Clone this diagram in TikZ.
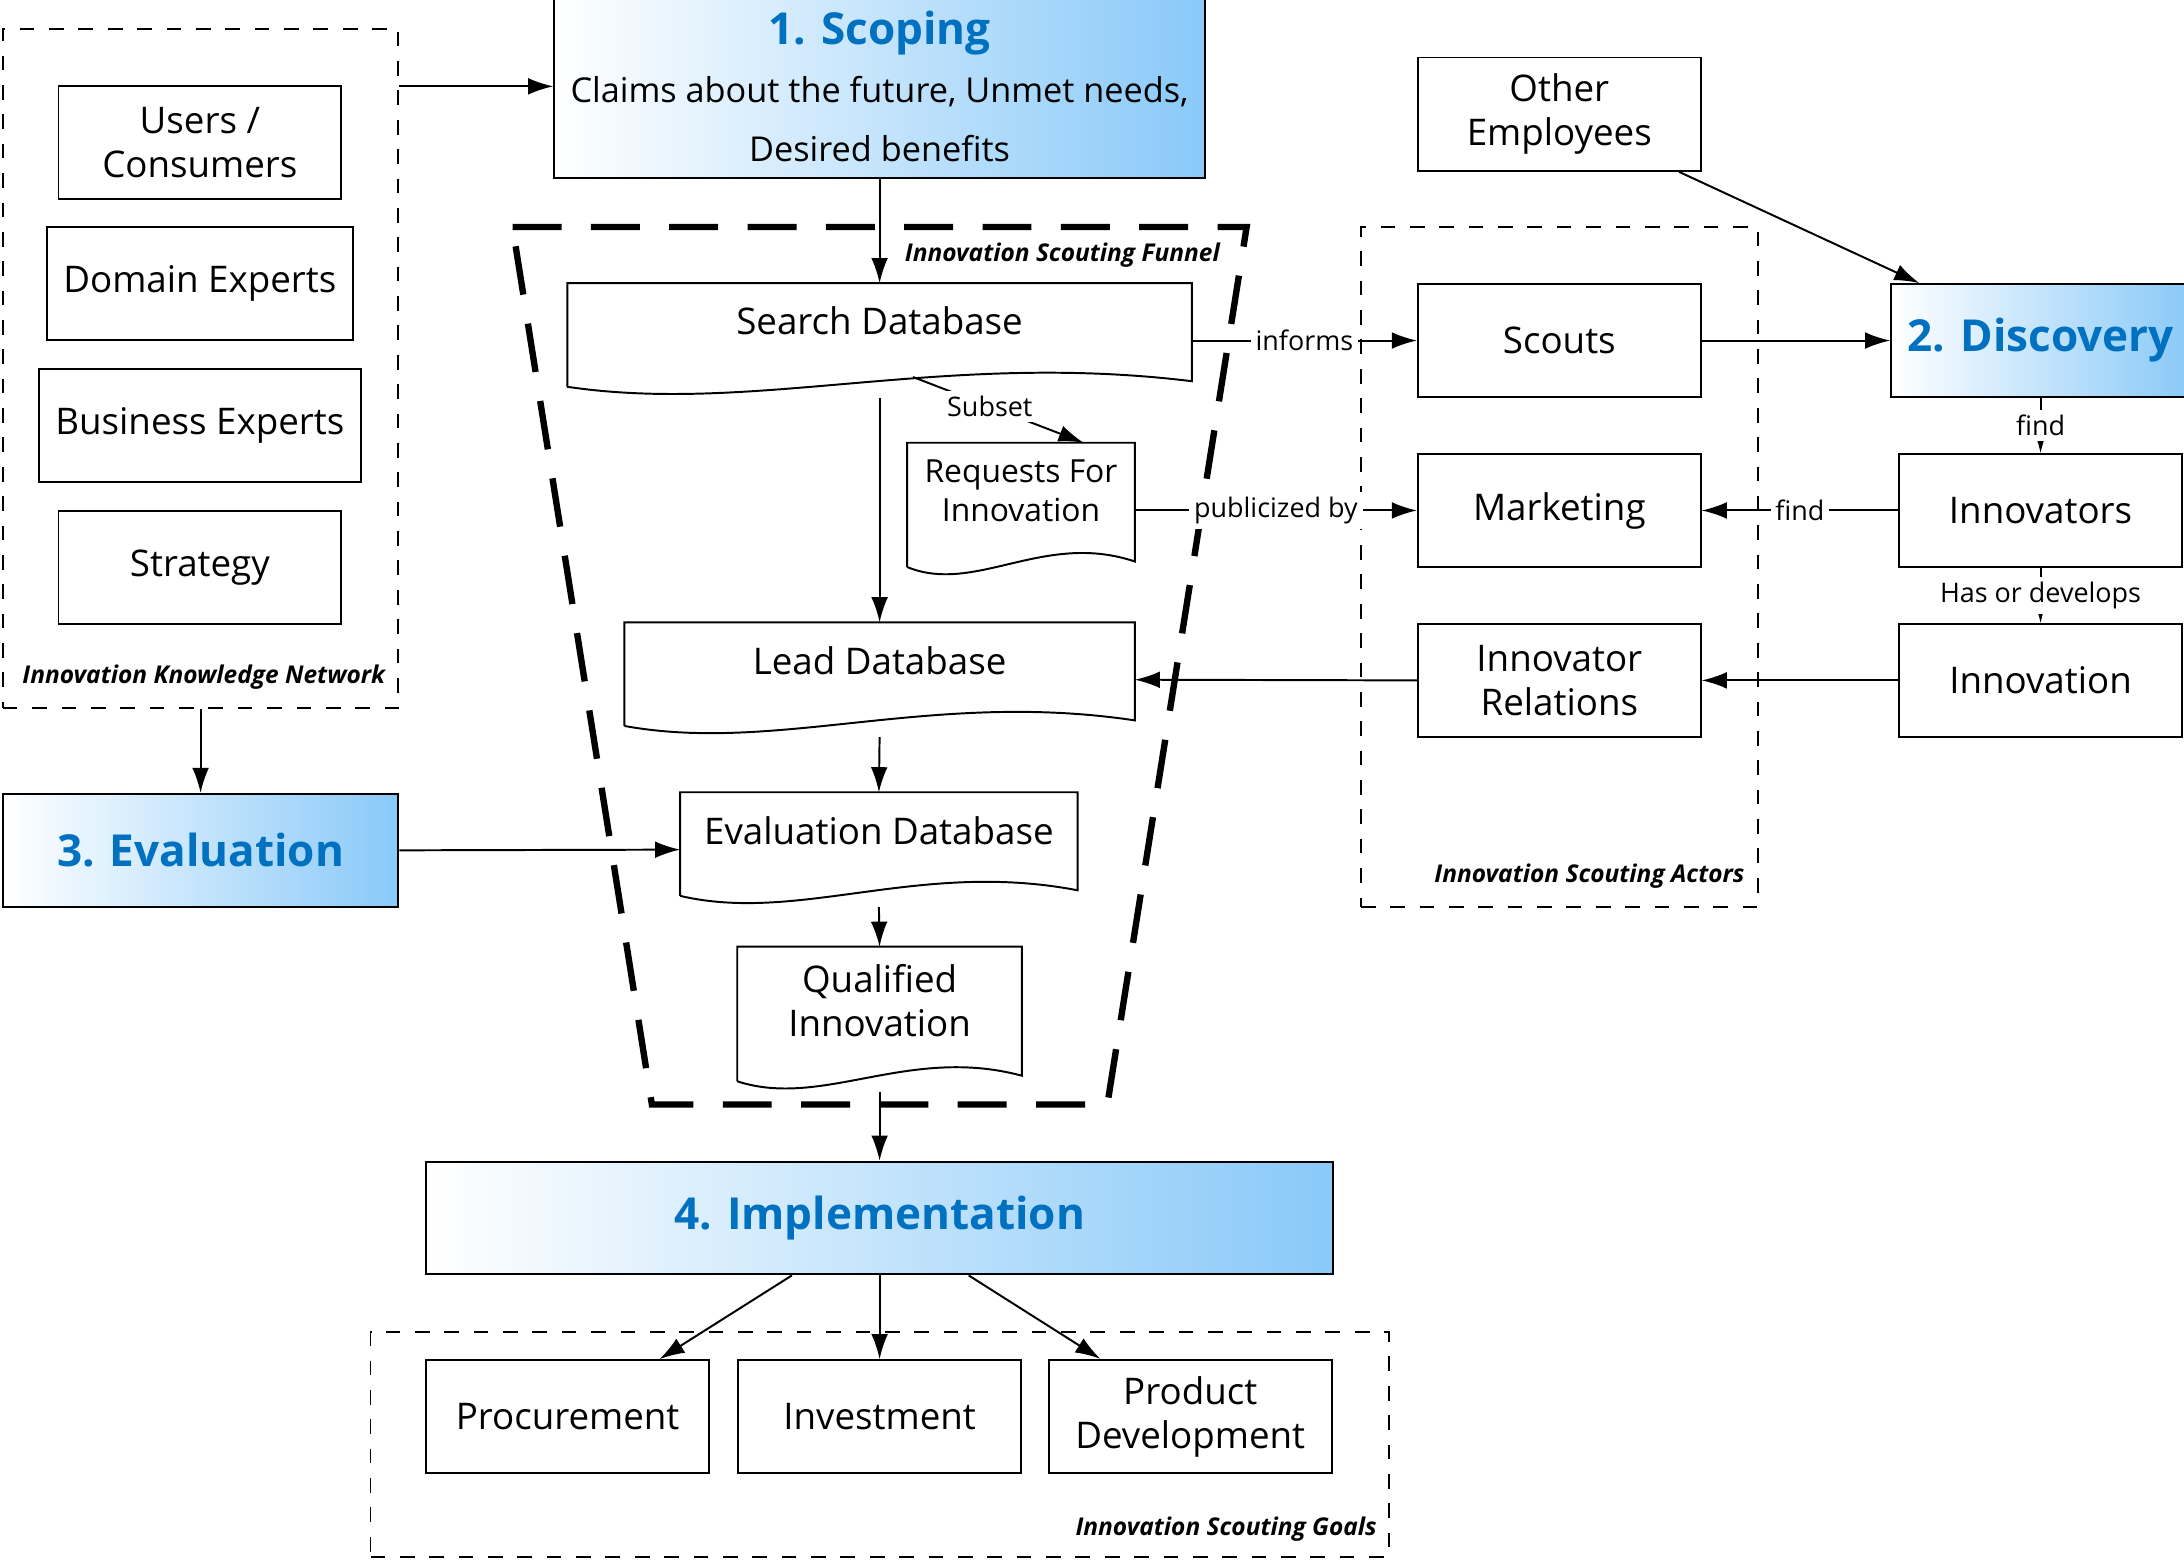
\documentclass[tikz,border=0pt]{standalone}
\usepackage{fontspec}
\setmainfont{Open Sans}
\usetikzlibrary{arrows.meta,calc}
\definecolor{skyb}{RGB}{137,201,248}
\definecolor{titleb}{RGB}{0,112,192}

\begin{document}
\begin{tikzpicture}[
    box/.style={draw, line width=0.4pt, minimum width=2.03cm, minimum height=0.81cm, align=center, font=\fontsize{7.5}{9}\selectfont},
    grad/.style={box, left color=white, right color=skyb, font=\fontsize{8}{10}\selectfont\bfseries\color{titleb}},
    doc/.style={box, draw=none, text depth=0.28cm},
    dashbox/.style={draw, dashed, line width=0.4pt},
    grp/.style={font=\fontsize{5}{6}\selectfont\bfseries\itshape, inner sep=1pt},
    lbl/.style={fill=white, inner sep=1pt, font=\fontsize{5.5}{6}\selectfont},
    arr/.style={-{Latex[length=1.8mm,width=1.2mm]}, line width=0.4pt}]
\useasboundingbox (0,0) rectangle (15.68,11.2);

% knowledge network
\node[dashbox, minimum width=2.84cm, minimum height=4.88cm] (knet) at (1.44,8.555) {};
\node[grp, anchor=south east] at ([shift={(-0.06,0.1)}]knet.south east) {Innovation Knowledge Network};
\node[box] (users) at (1.435,10.175) {Users /\\Consumers};
\node[box] (domain) at (1.435,9.165) {Domain Experts};
\node[box] (business) at (1.435,8.145) {Business Experts};
\node[box] (strategy) at (1.435,7.125) {Strategy};

% funnel
\draw[dashed, line width=1.3pt, dash pattern=on 10pt off 6pt] (3.68,9.57) -- (8.95,9.57) -- (7.95,3.27) -- (4.68,3.27) -- cycle;
\node[grp, anchor=east] at (8.8,9.37) {Innovation Scouting Funnel};

\node[grad, minimum width=4.47cm, minimum height=1.22cm, font=\fontsize{7}{12}\selectfont] (scoping) at (6.315,10.58)
    {{\fontsize{9}{12}\selectfont\bfseries\color{titleb}1. Scoping}\\Claims about the future, Unmet needs,\\Desired benefits};

\node[doc, minimum width=4.47cm] (sdb) at (6.315,8.755) {Search Database};
\node[doc, minimum width=1.62cm, font=\fontsize{6.5}{8}\selectfont] (rfi) at (7.33,7.535) {Requests For\\Innovation};
\node[doc, minimum width=3.65cm] (ldb) at (6.315,6.32) {Lead Database};
\node[doc, minimum width=2.84cm] (edb) at (6.31,5.10) {Evaluation Database};
\node[doc] (qi) at (6.315,3.88) {Qualified\\Innovation};
\foreach \n in {sdb,rfi,ldb,edb,qi}
    \draw ($(\n.south west)+(0,0.08)$) -- (\n.north west) -- (\n.north east) -- ($(\n.south east)+(0,0.12)$)
        .. controls ($(\n.south west)!0.6!(\n.south east)+(0,0.34)$) and ($(\n.south west)!0.3!(\n.south east)+(0,-0.12)$) .. ($(\n.south west)+(0,0.08)$);

\node[grad, minimum width=2.84cm] (eval) at (1.44,5.095) {\fontsize{9}{11}\selectfont 3. Evaluation};
\node[grad, minimum width=6.51cm] (impl) at (6.315,2.455) {\fontsize{9}{11}\selectfont 4. Implementation};

% goals
\node[dashbox, minimum width=7.31cm, minimum height=1.62cm] (goals) at (6.315,0.83) {};
\node[grp, anchor=south east] at ([shift={(-0.05,0.08)}]goals.south east) {Innovation Scouting Goals};
\node[box] (proc) at (4.075,1.03) {Procurement};
\node[box] (inv) at (6.315,1.03) {Investment};
\node[box] (prod) at (8.545,1.03) {Product\\Development};

% actors
\node[box] (other) at (11.195,10.38) {Other\\Employees};
\node[dashbox, minimum width=2.85cm, minimum height=4.88cm] (actors) at (11.195,7.13) {};
\node[grp, anchor=south east] at ([shift={(-0.06,0.1)}]actors.south east) {Innovation Scouting Actors};
\node[box] (scouts) at (11.195,8.755) {Scouts};
\node[box] (mkt) at (11.195,7.535) {Marketing};
\node[box] (ir) at (11.195,6.315) {Innovator\\Relations};
\node[grad, minimum width=2.02cm] (disc) at (14.65,8.755) {\fontsize{9}{11}\selectfont 2. Discovery};
\node[box] (innovators) at (14.65,7.535) {Innovators};
\node[box] (innovation) at (14.65,6.315) {Innovation};

% connectors
\draw[arr] (knet.east |- scoping) -- (scoping.west);
\draw[arr] (scoping.south) -- (sdb.north);
\draw[arr] (sdb.south) -- (ldb.north);
\draw[arr] ([shift={(0.24,0.15)}]sdb.south) -- node[lbl, pos=0.45] {Subset} ([xshift=0.45cm]rfi.north);
\draw[arr] (ldb.south) -- (edb.north);
\draw[arr] (edb.south) -- (qi.north);
\draw[arr] (qi.south) -- (impl.north);
\draw[arr] ([xshift=-0.63cm]impl.south) -- ([xshift=0.66cm]proc.north);
\draw[arr] (impl.south) -- (inv.north);
\draw[arr] ([xshift=0.64cm]impl.south) -- ([xshift=-0.645cm]prod.north);
\draw[arr] (knet.south) -- (eval.north);
\draw[arr] (eval.east) -- (edb.west);
\draw[arr] (sdb.east) -- node[lbl, pos=0.5] {informs} (scouts.west);
\draw[arr] (rfi.east) -- node[lbl, pos=0.5] {publicized by} (mkt.west);
\draw[arr] (scouts.east) -- (disc.west);
\draw[arr] ([xshift=0.86cm]other.south) -- ([xshift=-0.87cm]disc.north);
\draw[arr] (disc.south) -- node[lbl] {find} (innovators.north);
\draw[arr] (innovators.west) -- node[lbl] {find} (mkt.east);
\draw[arr] (innovators.south) -- node[lbl] {Has or develops} (innovation.north);
\draw[arr] (innovation.west) -- (ir.west -| ir.east);
\draw[arr] (ir.west) -- (ldb.east);
\end{tikzpicture}
\end{document}
